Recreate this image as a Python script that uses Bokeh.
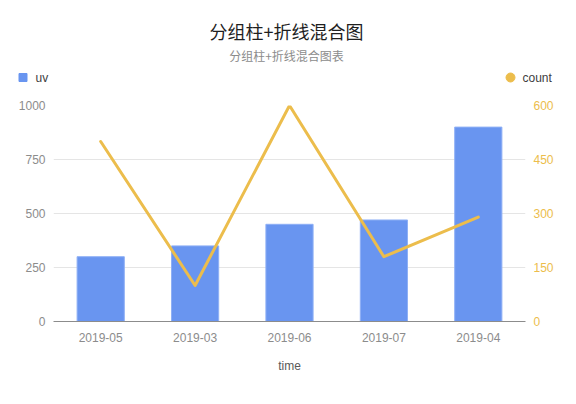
from bokeh.plotting import figure
from bokeh.layouts import column
from bokeh.models import Range1d, LinearAxis, FixedTicker, Label, ColumnDataSource
from bokeh.embed import file_html
from bokeh.resources import INLINE

months = ["2019-05", "2019-03", "2019-06", "2019-07", "2019-04"]
uv = [300, 350, 450, 470, 900]
count = [500, 100, 600, 180, 290]
uv_ticks = [0, 250, 500, 750, 1000]
count_ticks = [0, 150, 300, 450, 600]
title_text = "分组柱+折线混合图"
subtitle_text = "分组柱+折线混合图表"
x_label = "time"
series_names = ["uv", "count"]

BLUE = "#6995F0"
YELLOW = "#ECBD4C"
CJK = "Noto Sans CJK SC"
LAT = "Liberation Sans"

W = 572
HT = 92            # header figure height (title, subtitle, legend)
H = 308            # chart figure height
LEFT, RIGHT, TOP, BOTTOM = 53, W - 525, 13, 79

# ---------------- header figure (titles + legend keys, pixel space) ----------------
hf = figure(width=W, height=HT, x_range=Range1d(0, W), y_range=Range1d(HT, 0),
            output_backend="svg", toolbar_location=None, min_border=0,
            x_axis_type=None, y_axis_type=None, frame_align=False)
hf.outline_line_color = None
hf.grid.visible = False
hf.add_layout(Label(x=286, y=30, text=title_text, text_align="center", text_baseline="middle",
                    text_font=CJK, text_font_size="18px", text_color="#1F1F1F"))
hf.add_layout(Label(x=286, y=55, text=subtitle_text, text_align="center", text_baseline="middle",
                    text_font=CJK, text_font_size="12px", text_color="#8C8C8C"))

legend_keys = ColumnDataSource(dict(x=[22.5, 510], y=[77, 77], marker=["square", "circle"],
                                    size=[8, 9], color=[BLUE, YELLOW]))
hf.scatter(x="x", y="y", marker="marker", size="size", fill_color="color",
           line_color="color", source=legend_keys)
hf.add_layout(Label(x=35, y=77, text=series_names[0], text_align="left", text_baseline="middle",
                    text_font=LAT, text_font_size="12px", text_color="#404040"))
hf.add_layout(Label(x=522, y=77, text=series_names[1], text_align="left", text_baseline="middle",
                    text_font=LAT, text_font_size="12px", text_color="#404040"))

# ---------------- chart figure ----------------
src = ColumnDataSource(dict(month=months, uv=uv, count=count))

p = figure(width=W, height=H, x_range=months, y_range=Range1d(0, 1000),
           output_backend="svg", toolbar_location=None,
           min_border_left=LEFT, min_border_right=RIGHT,
           min_border_top=TOP, min_border_bottom=BOTTOM, frame_align=False)
p.outline_line_color = None
p.extra_y_ranges = {"count": Range1d(0, 600)}

bars = p.vbar(x="month", top="uv", width=0.5, source=src, fill_color=BLUE,
              line_color="#8FB0F5", line_width=1)
line = p.line(x="month", y="count", source=src, y_range_name="count",
              line_color=YELLOW, line_width=3, line_join="round", line_cap="round")

p.xaxis.axis_label = x_label
p.xaxis.axis_label_text_font = LAT
p.xaxis.axis_label_text_font_style = "normal"
p.xaxis.axis_label_text_font_size = "12px"
p.xaxis.axis_label_text_color = "#595959"
p.xaxis.axis_label_standoff = 14
p.xaxis.major_label_text_font = LAT
p.xaxis.major_label_text_font_size = "12px"
p.xaxis.major_label_text_color = "#8C8C8C"
p.xaxis.major_tick_line_color = None
p.xaxis.minor_tick_line_color = None
p.xaxis.axis_line_color = "#8C8C8C"
p.xaxis.major_label_standoff = 5

p.yaxis.ticker = FixedTicker(ticks=uv_ticks)
p.yaxis.major_label_text_font = LAT
p.yaxis.major_label_text_font_size = "12px"
p.yaxis.major_label_text_color = "#8C8C8C"
p.yaxis.major_tick_line_color = None
p.yaxis.minor_tick_line_color = None
p.yaxis.major_tick_out = 0
p.yaxis.minor_tick_out = 0
p.yaxis.axis_line_color = None
p.yaxis.major_label_standoff = 8

raxis = LinearAxis(y_range_name="count", ticker=FixedTicker(ticks=count_ticks))
raxis.major_label_text_font = LAT
raxis.major_label_text_font_size = "12px"
raxis.major_label_text_color = YELLOW
raxis.major_tick_line_color = None
raxis.minor_tick_line_color = None
raxis.major_tick_out = 0
raxis.minor_tick_out = 0
raxis.axis_line_color = None
raxis.major_label_standoff = 8
p.add_layout(raxis, "right")

p.xgrid.grid_line_color = None
p.ygrid.ticker = FixedTicker(ticks=uv_ticks)
p.ygrid.grid_line_color = "#E5E5E5"
p.ygrid.grid_line_width = 1

layout = column(hf, p, spacing=0)
open("out.html", "w").write(file_html(layout, INLINE))
